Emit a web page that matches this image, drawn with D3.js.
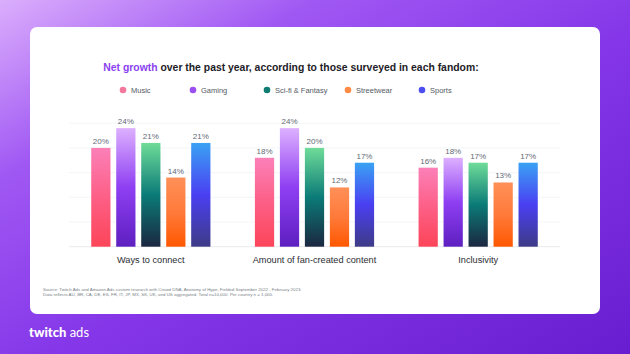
<html>
<head>
  <script src="https://d3js.org/d3.v7.min.js"></script>
  <style>
    body{ margin:0; }
    svg{ display:block; font-family:"Liberation Sans", Arial, sans-serif; }
  </style>
</head>
<body>
  <script type="text/javascript">
    var width=630;
    var height=354;

    var categories=["Ways to connect","Amount of fan-created content","Inclusivity"];
    var series=["Music","Gaming","Sci-fi & Fantasy","Streetwear","Sports"];
    var music=[20,18,16];
    var gaming=[24,24,18];
    var scifi=[21,20,17];
    var streetwear=[14,12,13];
    var sports=[21,17,17];
    var yTicks=[0,5,10,15,20,25];

    var values=[music,gaming,scifi,streetwear,sports];
    // gradient stops per series (top -> bottom)
    var grads=[
      ["#fb80b8","#fd5f86","#fc4559"],
      ["#ddb0ff","#8e3ff2","#5e1fc0"],
      ["#6fdc98","#0b7b78","#1b2740"],
      ["#ff9058","#ff7a3a","#ff5800"],
      ["#3aa2f4","#4a3ff2","#3e3b86"]
    ];
    var dots=["#f4789c","#9b4ff0","#0f7c72","#ff8a45","#4b4ef0"];

    var svg=d3.select("body").append("svg")
              .attr("width",width)
              .attr("height",height);
    var defs=svg.append("defs");

    // background
    var bg=defs.append("linearGradient").attr("id","bg")
               .attr("x1","0").attr("y1","0").attr("x2","1").attr("y2","1");
    bg.append("stop").attr("offset","0").attr("stop-color","#dbaefc");
    bg.append("stop").attr("offset","0.25").attr("stop-color","#a058f3");
    bg.append("stop").attr("offset","0.55").attr("stop-color","#8436e8");
    bg.append("stop").attr("offset","1").attr("stop-color","#681ed0");
    svg.append("rect").attr("width",width).attr("height",height).attr("fill","url(#bg)");

    svg.append("rect")
       .attr("x",30).attr("y",27).attr("width",570).attr("height",287)
       .attr("rx",7).attr("fill","#fff");

    grads.forEach(function(g,i){
      var lg=defs.append("linearGradient").attr("id","g"+i)
                 .attr("x1","0").attr("y1","0").attr("x2","0").attr("y2","1");
      lg.append("stop").attr("offset","0").attr("stop-color",g[0]);
      lg.append("stop").attr("offset","0.5").attr("stop-color",g[1]);
      lg.append("stop").attr("offset","1").attr("stop-color",g[2]);
    });

    // title
    var title=svg.append("text")
       .attr("x",291).attr("y",71)
       .attr("text-anchor","middle")
       .style("font-size","10.4px")
       .style("font-weight","bold");
    title.append("tspan").attr("fill","#8a3ff0").text("Net growth");
    title.append("tspan").attr("fill","#1e2128").text(" over the past year, according to those surveyed in each fandom:");

    // legend
    var legendX=[123,193,267,348,422];
    var legend=svg.append("g").selectAll("g")
       .data(series)
       .enter()
       .append("g")
       .attr("transform",function(d,i){ return "translate("+legendX[i]+",90)"; });
    legend.append("circle").attr("r",3.3).attr("fill",function(d,i){ return dots[i]; });
    legend.append("text")
       .attr("x",8).attr("y",2.7)
       .style("font-size","7.5px")
       .attr("fill","#555a63")
       .text(function(d){ return d; });

    // scales
    var x0=d3.scaleBand().domain(categories).range([69,560]);
    var x1=d3.scaleBand().domain(d3.range(series.length))
             .range([-59.6,59.6]).paddingInner(0.23);
    var y=d3.scaleLinear().domain([0,25]).range([246.7,123.2]);

    // grid
    svg.append("g").selectAll("line")
       .data(yTicks)
       .enter()
       .append("line")
       .attr("x1",69).attr("x2",560)
       .attr("y1",function(d){ return y(d); })
       .attr("y2",function(d){ return y(d); })
       .attr("stroke",function(d){ return d==0 ? "#e2e5ea" : "#f0f2f5"; })
       .attr("stroke-width",0.8);

    // bars
    var groups=svg.append("g").selectAll("g")
       .data(categories)
       .enter()
       .append("g")
       .attr("transform",function(d){ return "translate("+(x0(d)+x0.bandwidth()/2)+",0)"; });

    groups.each(function(c,ci){
      var g=d3.select(this);
      var rows=values.map(function(v,si){ return {s:si,v:v[ci]}; });
      g.selectAll("rect")
       .data(rows)
       .enter()
       .append("rect")
       .attr("x",function(d){ return x1(d.s); })
       .attr("y",function(d){ return y(d.v); })
       .attr("width",x1.bandwidth())
       .attr("height",function(d){ return y(0)-y(d.v); })
       .attr("fill",function(d){ return "url(#g"+d.s+")"; });
      g.selectAll("text")
       .data(rows)
       .enter()
       .append("text")
       .attr("x",function(d){ return x1(d.s)+x1.bandwidth()/2; })
       .attr("y",function(d){ return y(d.v)-4; })
       .attr("text-anchor","middle")
       .style("font-size","8px")
       .attr("fill","#646a75")
       .text(function(d){ return d.v+"%"; });
    });

    // category labels
    svg.append("g").selectAll("text")
       .data(categories)
       .enter()
       .append("text")
       .attr("x",function(d){ return x0(d)+x0.bandwidth()/2; })
       .attr("y",263)
       .attr("text-anchor","middle")
       .style("font-size","9.2px")
       .attr("fill","#2a2d33")
       .text(function(d){ return d; });

    // footnote
    var notes=["Source: Twitch Ads and Amazon Ads custom research with Crowd DNA, Anatomy of Hype, Fielded September 2022 - February 2023.",
               "Data reflects AU, BR, CA, DE, ES, FR, IT, JP, MX, SK, UK, and US aggregated. Total n=10,000. Per country n = 1,000."];
    svg.append("g").selectAll("text")
       .data(notes)
       .enter()
       .append("text")
       .attr("x",43)
       .attr("y",function(d,i){ return 291+i*4.8; })
       .style("font-size","4.4px")
       .attr("fill","#7a7f88")
       .text(function(d){ return d; });

    // logo
    var logo=svg.append("text").attr("x",29).attr("y",337).attr("fill","#fff");
    logo.append("tspan").style("font-family","Lato, sans-serif").style("font-weight","900")
        .style("font-size","13px").text("twitch");
    logo.append("tspan").style("font-family","Lato, sans-serif").style("font-weight","400")
        .style("font-size","13px").text(" ads");
  </script>
</body>
</html>
